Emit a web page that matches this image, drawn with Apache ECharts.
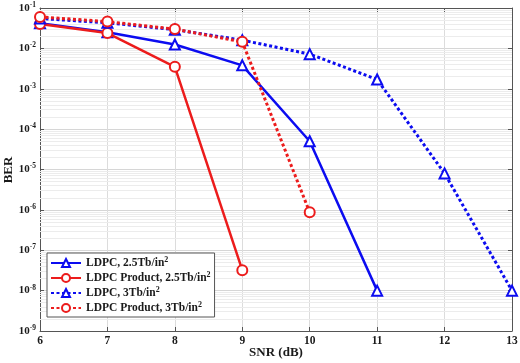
<!DOCTYPE html>
<html>
<head>
<meta charset="utf-8">
<script src="https://cdn.jsdelivr.net/npm/echarts@6/dist/echarts.min.js"></script>
<style>
  html, body { margin: 0; padding: 0; background: #fff; }
  #chart { width: 520px; height: 363px; }
</style>
</head>
<body>
<div id="chart"></div>
<script>
var snr = [6, 7, 8, 9, 10, 11, 12, 13]
var ldpc25 = [0.042, 0.025, 0.0125, 0.0038, 5e-5, 1e-8]
var prod25 = [0.04, 0.024, 0.0035, 3.2e-8]
var ldpc3 = [0.055, 0.043, 0.029, 0.016, 0.0072, 0.0017, 8e-6, 1e-8]
var prod3 = [0.06, 0.046, 0.03, 0.0145, 8.7e-7]
var names = ['LDPC, 2.5Tb/in2', 'LDPC Product, 2.5Tb/in2', 'LDPC, 3Tb/in2', 'LDPC Product, 3Tb/in2']

var blue = '#0c0cf0'
var red = '#ec1c1c'
var font = '"Liberation Serif", "Times New Roman", serif'

// y axis is drawn in log10 units, ticks are the exponents
function pairs(vals) {
  return vals.map(function (v, i) { return [snr[i], Math.log10(v)] })
}

// minor log grid lines 2..9 per decade
var minorLines = []
for (var e = -9; e < -1; e++) {
  for (var m = 2; m <= 9; m++) {
    minorLines.push({ yAxis: e + Math.log10(m) })
  }
}

function supLabel(p) {
  return '{b|10}{e|' + Math.round(p) + '}'
}

function mkSeries(i, vals, color, symbol, dotted) {
  return {
    name: names[i],
    type: 'line',
    data: pairs(vals),
    symbol: symbol,
    symbolSize: 10,
    showSymbol: true,
    color: color,
    itemStyle: { color: '#fff', borderColor: color, borderWidth: 2 },
    lineStyle: { color: color, width: dotted ? 3 : 2.5, type: dotted ? [3, 2.5] : 'solid' },
    z: 3 + i,
    animation: false
  }
}

var chart = echarts.init(document.getElementById('chart'))
var series = [
  mkSeries(0, ldpc25, blue, 'triangle', false),
  mkSeries(1, prod25, red, 'circle', false),
  mkSeries(2, ldpc3, blue, 'triangle', true),
  mkSeries(3, prod3, red, 'circle', true)
]
series[0].markLine = {
  silent: true,
  symbol: 'none',
  label: { show: false },
  animation: false,
  lineStyle: { color: '#ececec', width: 1, type: 'solid' },
  z: 1,
  data: minorLines
}

var tickFont = { fontFamily: font, fontWeight: 'bold', fontSize: 11.5, color: '#1a1a1a' }
var nameStyle = { fontFamily: font, fontWeight: 'bold', fontSize: 13, fill: '#1a1a1a', align: 'center', verticalAlign: 'middle' }

chart.setOption({
  backgroundColor: '#fff',
  grid: { left: 40, right: 8, top: 8, bottom: 32, outerBoundsMode: 'none', containLabel: false },
  graphic: [{
    type: 'text',
    x: 9,
    y: 170,
    rotation: Math.PI / 2,
    style: Object.assign({ text: 'BER' }, nameStyle)
  }, {
    type: 'text',
    x: 276,
    y: 353,
    style: Object.assign({ text: 'SNR (dB)' }, nameStyle)
  }],
  legend: {
    orient: 'vertical',
    left: 47,
    top: 253,
    padding: [3, 4, 3, 3],
    itemGap: 2,
    itemWidth: 30,
    itemHeight: 10,
    backgroundColor: '#fff',
    borderColor: '#555',
    borderWidth: 1,
    borderRadius: 0,
    data: names,
    formatter: function (n) {
      return '{t|' + n.slice(0, -1) + '}{s|2}'
    },
    textStyle: {
      fontFamily: font,
      fontWeight: 'bold',
      fontSize: 11,
      color: '#1a1a1a',
      rich: {
        t: { fontFamily: font, fontWeight: 'bold', fontSize: 11.5, color: '#1a1a1a', lineHeight: 14 },
        s: { fontFamily: font, fontWeight: 'bold', fontSize: 8, color: '#1a1a1a', lineHeight: 14, verticalAlign: 'top' }
      }
    }
  },
  xAxis: [{
    type: 'value',
    min: 6,
    max: 13,
    interval: 1,
    axisLine: { lineStyle: { color: '#555', width: 1 } },
    axisTick: { inside: true, length: 4, lineStyle: { color: '#555' } },
    axisLabel: Object.assign({ margin: 4 }, tickFont),
    splitLine: { show: true, lineStyle: { color: '#dcdcdc', width: 1 } }
  }, {
    type: 'value',
    position: 'top',
    min: 6,
    max: 13,
    interval: 1,
    axisLine: { lineStyle: { color: '#555', width: 1 } },
    axisTick: { inside: true, length: 4, lineStyle: { color: '#555' } },
    axisLabel: { show: false },
    splitLine: { show: false }
  }],
  yAxis: [{
    type: 'value',
    min: -9,
    max: -1,
    interval: 1,
    axisLine: { show: true, lineStyle: { color: '#555', width: 1 } },
    axisTick: { inside: true, length: 4, lineStyle: { color: '#555' } },
    axisLabel: {
      margin: 4,
      formatter: supLabel,
      rich: {
        b: { fontFamily: font, fontWeight: 'bold', fontSize: 11, color: '#1a1a1a', lineHeight: 14 },
        e: { fontFamily: font, fontWeight: 'bold', fontSize: 7.5, color: '#1a1a1a', lineHeight: 14, verticalAlign: 'top' }
      }
    },
    splitLine: { show: true, lineStyle: { color: '#d6d6d6', width: 1 } }
  }, {
    type: 'value',
    position: 'right',
    min: -9,
    max: -1,
    interval: 1,
    axisLine: { show: true, lineStyle: { color: '#555', width: 1 } },
    axisTick: { inside: true, length: 4, lineStyle: { color: '#555' } },
    axisLabel: { show: false },
    splitLine: { show: false }
  }],
  series: series
})
</script>
</body>
</html>
